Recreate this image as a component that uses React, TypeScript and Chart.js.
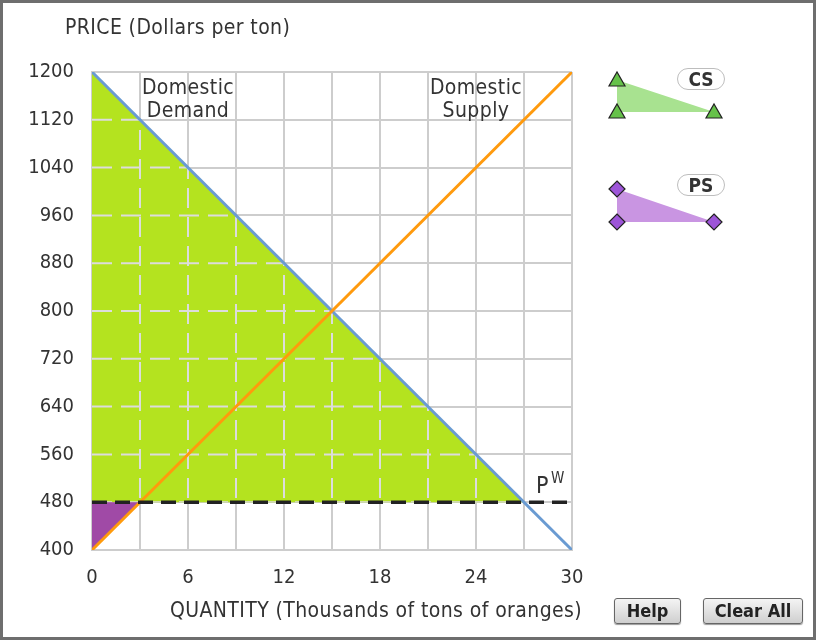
import React, { useEffect, useRef } from "react";
import { Chart, registerables } from "chart.js";

Chart.register(...registerables);

// ---- data ----
const xMin = 0;
const xMax = 30;
const xGridStep = 3;
const xLabelStep = 6;
const yMin = 400;
const yMax = 1200;
const yStep = 80;

const demandQ = [0, 30];
const demandP = [1200, 400];
const supplyQ = [0, 30];
const supplyP = [400, 1200];
const worldPrice = 480;
const worldQ = [0, 30];
const csQ = [0, 27];
const csP = [1200, 480];
const psQ = [0, 3];
const psP = [400, 480];

const FONT = "'DejaVu Sans Condensed', 'DejaVu Sans', sans-serif";

const toPts = (xs: number[], ys: number[]) => xs.map((x, i) => ({ x, y: ys[i] }));

const greenGridPlugin = {
  id: "greenGrid",
  afterDatasetDraw(chart: any, args: any) {
    if (args.index !== 0) return;
    const { ctx, chartArea, scales } = chart;
    const xs = scales.x;
    const ys = scales.y;
    ctx.save();
    ctx.beginPath();
    ctx.moveTo(xs.getPixelForValue(csQ[0]), ys.getPixelForValue(csP[0]));
    ctx.lineTo(xs.getPixelForValue(csQ[1]), ys.getPixelForValue(csP[1]));
    ctx.lineTo(xs.getPixelForValue(csQ[0]), ys.getPixelForValue(csP[1]));
    ctx.closePath();
    ctx.clip();
    ctx.strokeStyle = "#dcdcdc";
    ctx.lineWidth = 2;
    ctx.setLineDash([20, 9]);
    for (let v = xMin + xGridStep; v < xMax; v += xGridStep) {
      const px = xs.getPixelForValue(v);
      ctx.beginPath();
      ctx.moveTo(px, chartArea.top);
      ctx.lineTo(px, chartArea.bottom);
      ctx.stroke();
    }
    for (let v = yMin + yStep; v < yMax; v += yStep) {
      const py = ys.getPixelForValue(v);
      ctx.beginPath();
      ctx.moveTo(chartArea.left, py);
      ctx.lineTo(chartArea.right, py);
      ctx.stroke();
    }
    ctx.restore();
  },
};

function SurplusChart() {
  const ref = useRef<HTMLCanvasElement | null>(null);
  useEffect(() => {
    if (!ref.current) return;
    const chart = new Chart(ref.current, {
      type: "scatter",
      data: {
        datasets: [
          {
            label: "CS",
            data: toPts(csQ, csP),
            showLine: true,
            borderWidth: 0,
            borderColor: "rgba(0,0,0,0)",
            backgroundColor: "#b4e31f",
            fill: { value: worldPrice },
            pointRadius: 0,
            order: 5,
          },
          {
            label: "PS",
            data: toPts(psQ, psP),
            showLine: true,
            borderWidth: 0,
            borderColor: "rgba(0,0,0,0)",
            backgroundColor: "#a04aa6",
            fill: { value: worldPrice },
            pointRadius: 0,
            order: 4,
          },
          {
            label: "Domestic Demand",
            data: toPts(demandQ, demandP),
            showLine: true,
            borderColor: "#6a9bd2",
            borderWidth: 3,
            pointRadius: 0,
            fill: false,
            order: 3,
          },
          {
            label: "Domestic Supply",
            data: toPts(supplyQ, supplyP),
            showLine: true,
            borderColor: "#ff9a0d",
            borderWidth: 3,
            pointRadius: 0,
            fill: false,
            order: 2,
          },
          {
            label: "PW",
            data: toPts(worldQ, worldQ.map(() => worldPrice)),
            showLine: true,
            borderColor: "#222222",
            borderWidth: 3.5,
            borderDash: [15, 8],
            pointRadius: 0,
            fill: false,
            order: 1,
          },
        ],
      },
      options: {
        responsive: false,
        animation: false,
        events: [],
        layout: { padding: { left: 0, top: 72, right: 244, bottom: 0 } },
        plugins: { legend: { display: false }, tooltip: { enabled: false } },
        scales: {
          x: {
            type: "linear",
            min: xMin,
            max: xMax,
            afterFit: (s: any) => {
              s.height = 90;
            },
            ticks: {
              stepSize: xGridStep,
              padding: 16,
              color: "#333",
              font: { family: FONT, size: 20 },
              callback: (v: any) => (Number(v) % xLabelStep === 0 ? String(v) : ""),
              maxRotation: 0,
              autoSkip: false,
            },
            grid: { color: "#cdcdcd", lineWidth: 2, drawTicks: false },
            border: { display: true, color: "#cdcdcd", width: 2 },
          },
          y: {
            type: "linear",
            min: yMin,
            max: yMax,
            afterFit: (s: any) => {
              s.width = 92;
            },
            ticks: {
              stepSize: yStep,
              padding: 18,
              color: "#333",
              font: { family: FONT, size: 20 },
              callback: (v: any) => String(v),
              autoSkip: false,
            },
            grid: { color: "#cdcdcd", lineWidth: 2, drawTicks: false },
            border: { display: true, color: "#cdcdcd", width: 2 },
          },
        },
      },
      plugins: [greenGridPlugin],
    } as any);
    return () => chart.destroy();
  }, []);
  return (
    <canvas
      ref={ref}
      width={816}
      height={640}
      style={{ position: "absolute", left: 0, top: 0, width: 816, height: 640 }}
    />
  );
}

const textBase: React.CSSProperties = {
  position: "absolute",
  fontFamily: FONT,
  fontSize: 21,
  color: "#333",
  whiteSpace: "nowrap",
  lineHeight: "23px",
  letterSpacing: "0.4px",
};

const pill: React.CSSProperties = {
  position: "absolute",
  width: 46,
  height: 20,
  border: "1px solid #bdbdbd",
  borderRadius: 11,
  background: "#fff",
  fontFamily: FONT,
  fontSize: 19,
  fontWeight: 600,
  color: "#333",
  textAlign: "center",
  lineHeight: "20px",
};

const button: React.CSSProperties = {
  position: "absolute",
  height: 24,
  border: "1px solid #666",
  borderRadius: 3,
  background: "linear-gradient(#f4f4f4, #cfcfcf)",
  boxShadow: "0 1px 1px rgba(0,0,0,0.4)",
  fontFamily: FONT,
  fontSize: 18,
  fontWeight: 600,
  color: "#222",
  textAlign: "center",
  lineHeight: "24px",
};

function tri(cx: number, cy: number) {
  return `${cx - 8},${cy + 6} ${cx + 8},${cy + 6} ${cx},${cy - 8}`;
}
function dia(cx: number, cy: number) {
  return `${cx},${cy - 8} ${cx + 8},${cy} ${cx},${cy + 8} ${cx - 8},${cy}`;
}

export default function App() {
  return (
    <div
      style={{
        position: "fixed",
        left: 0,
        top: 0,
        width: 816,
        height: 640,
        background: "#fff",
        overflow: "hidden",
      }}
    >
      <SurplusChart />
      <div style={{ ...textBase, left: 65, top: 16 }}>PRICE (Dollars per ton)</div>
      <div style={{ ...textBase, left: 170, top: 599 }}>
        QUANTITY (Thousands of tons of oranges)
      </div>
      <div style={{ ...textBase, left: 128, top: 76, width: 120, textAlign: "center" }}>
        Domestic
        <br />
        Demand
      </div>
      <div style={{ ...textBase, left: 416, top: 76, width: 120, textAlign: "center" }}>
        Domestic
        <br />
        Supply
      </div>
      <div style={{ ...textBase, left: 536, top: 474, fontSize: 23 }}>
        P<span style={{ fontSize: 15, position: "relative", top: -10, marginLeft: 2 }}>W</span>
      </div>

      <svg
        width={816}
        height={640}
        style={{ position: "absolute", left: 0, top: 0, pointerEvents: "none" }}
      >
        <polygon points="617,80 617,112 714,112" fill="#a8e290" />
        <polygon points={tri(617, 80)} fill="#66c24a" stroke="#222" strokeWidth={1.2} />
        <polygon points={tri(617, 112)} fill="#66c24a" stroke="#222" strokeWidth={1.2} />
        <polygon points={tri(714, 112)} fill="#66c24a" stroke="#222" strokeWidth={1.2} />
        <polygon points="617,189 617,222 714,222" fill="#c995e2" />
        <polygon points={dia(617, 189)} fill="#9d55d8" stroke="#222" strokeWidth={1.2} />
        <polygon points={dia(617, 222)} fill="#9d55d8" stroke="#222" strokeWidth={1.2} />
        <polygon points={dia(714, 222)} fill="#9d55d8" stroke="#222" strokeWidth={1.2} />
      </svg>
      <div style={{ ...pill, left: 677, top: 68 }}>CS</div>
      <div style={{ ...pill, left: 677, top: 174 }}>PS</div>

      <div style={{ ...button, left: 614, top: 598, width: 65 }}>Help</div>
      <div style={{ ...button, left: 703, top: 598, width: 98 }}>Clear All</div>

      <div
        style={{
          position: "absolute",
          left: 0,
          top: 0,
          width: 816,
          height: 640,
          boxSizing: "border-box",
          border: "3px solid #6e6e6e",
          pointerEvents: "none",
        }}
      />
    </div>
  );
}
